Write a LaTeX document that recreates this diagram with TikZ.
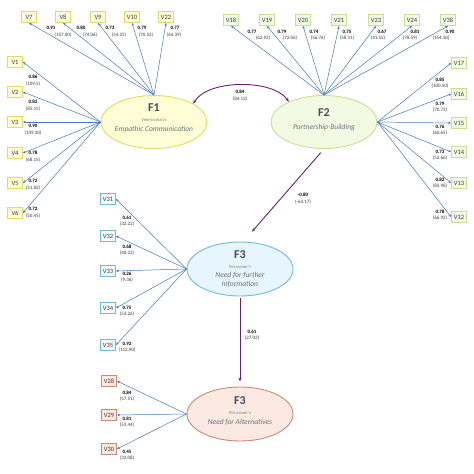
\documentclass[tikz,border=0pt]{standalone}
\usepackage{fontspec}
\setmainfont{Carlito}
\usetikzlibrary{arrows.meta,positioning,calc,shapes.geometric}
\definecolor{lineBlue}{RGB}{70,120,190}
\definecolor{effPurple}{RGB}{105,35,115}
\definecolor{textGrey}{RGB}{60,60,60}
\definecolor{titleGrey}{RGB}{65,78,92}
\definecolor{subGrey}{RGB}{130,130,130}
\definecolor{nameGrey}{RGB}{105,115,125}
\definecolor{yelBorder}{RGB}{228,218,100}
\definecolor{yelFill}{RGB}{255,253,214}
\definecolor{grnBorder}{RGB}{196,226,146}
\definecolor{grnFill}{RGB}{243,250,228}
\definecolor{bluBorder}{RGB}{110,188,218}
\definecolor{bluFill}{RGB}{230,246,252}
\definecolor{orgBorder}{RGB}{205,138,110}
\definecolor{orgFill}{RGB}{252,233,226}

\begin{document}
\begin{tikzpicture}[
  x=1pt, y=-1pt,
  font=\rmfamily,
  vbox/.style={draw, line width=0.8pt, minimum width=15pt, minimum height=11pt, inner sep=0pt, font=\fontsize{6.5}{7}\selectfont, text=textGrey},
  ybox/.style={vbox, draw=yelBorder, fill=yelFill},
  gbox/.style={vbox, draw=grnBorder, fill=grnFill},
  bbox/.style={vbox, draw=bluBorder, fill=bluFill!40},
  obox/.style={vbox, draw=orgBorder, fill=orgFill},
  factor/.style={ellipse, line width=0.9pt, minimum width=106pt, minimum height=53pt, inner sep=0pt},
  ftag/.style={font=\bfseries\fontsize{12}{13}\selectfont, text=titleGrey},
  fsub/.style={font=\fontsize{4.5}{5}\selectfont, text=subGrey},
  fname/.style={font=\itshape\fontsize{7.5}{9.5}\selectfont, text=nameGrey, align=center},
  load/.style={-{Stealth[length=3pt,width=2.4pt]}, draw=lineBlue, line width=0.5pt},
  effect/.style={-{Stealth[length=4pt,width=3pt]}, draw=effPurple, line width=0.9pt},
  coef/.style={font=\bfseries\fontsize{5}{6}\selectfont, text=black, inner sep=0pt},
  tval/.style={font=\fontsize{5}{6}\selectfont, text=textGrey, inner sep=0pt}
]
\fill[white] (0,0) rectangle (474,474);
\useasboundingbox (0,0) rectangle (474,474);

% Factors
\node[factor, draw=yelBorder, fill=yelFill] (f1) at (154,122) {};
\node[ftag] (f1tag) at (154,108) {F1};
\node[fsub] (f1sub) at (154,120) {Veterinarian's};
\node[fname] (f1name) at (154,129) {Empathic Communication};

\node[factor, draw=grnBorder, fill=grnFill] (f2) at (324,122) {};
\node[ftag] (f2tag) at (324,113) {F2};
\node[fname] (f2name) at (324,128) {Partnership-Building};

\node[factor, draw=bluBorder, fill=bluFill, minimum height=54pt] (f3a) at (240,269) {};
\node[ftag] (f3atag) at (240,255) {F3};
\node[fsub] (f3asub) at (240,267) {Pet owner's};
\node[fname] (f3aname) at (240,280) {Need for further\\Information};

\node[factor, draw=orgBorder, fill=orgFill, minimum height=54pt] (f3b) at (240,414) {};
\node[ftag] (f3btag) at (240,401) {F3};
\node[fsub] (f3bsub) at (240,413) {Pet owner's};
\node[fname] (f3bname) at (240,422) {Need for Alternatives};

% F1 indicators
\foreach \n/\x in {7/29,8/63,9/98,10/132,22/166}{
  \node[ybox] (v\n) at (\x,17) {V\n};
  \draw[load] (f1.north) -- (v\n.south);
}
\foreach \n/\y in {1/62,2/92,3/122,4/153,5/183,6/213}{
  \node[ybox] (v\n) at (15,\y) {V\n};
  \draw[load] (f1.west) -- (v\n.east);
}

% F2 indicators
\foreach \n/\x in {18/231,19/267,20/303,21/339,23/376,24/412,38/448}{
  \node[gbox] (v\n) at (\x,20) {V\n};
  \draw[load] (f2.north) -- (v\n.south);
}
\foreach \n/\y in {17/63,16/94,15/123,14/152,13/183,12/217}{
  \node[gbox] (v\n) at (459,\y) {V\n};
  \draw[load] (f2.east) -- (v\n.west);
}

% F3 indicators
\foreach \n/\y in {31/199,32/236,33/271,34/308,35/345}{
  \node[bbox] (v\n) at (108,\y) {V\n};
  \draw[load] (f3a.west) -- (v\n.east);
}
\foreach \n/\y in {28/381,29/415,30/449}{
  \node[obox] (v\n) at (109,\y) {V\n};
  \draw[load] (f3b.west) -- (v\n.east);
}

% Loadings
\foreach \x/\cf/\u/\tv in {51/0.91/63/157.00, 81/0.80/90/74.06, 110/0.73/119/54.25, 142/0.79/146/70.52, 175/0.77/174/64.39}{
  \node[coef] (ct\x) at (\x,28) {\cf};
  \node[tval] (tt\x) at (\u,35) {(\tv)};
}
\foreach \x/\cf/\u/\tv in {252/0.77/263/62.92, 282/0.79/290/72.06, 314/0.74/318/56.76, 347/0.75/347/58.11, 382/0.67/378/41.55, 415/0.81/410/78.59, 450/0.90/441/154.10}{
  \node[coef] (cr\x) at (\x,32) {\cf};
  \node[tval] (tr\x) at (\u,38) {(\tv)};
}
\foreach \y/\cf/\tv in {77/0.86/109.5, 102/0.82/85.15, 126/0.90/149.30, 153/0.78/68.15, 181/0.72/51.82, 209/0.72/50.45}{
  \node[coef] (cl\y) at (33,\y) {\cf};
  \node[tval] (tl\y) at (33,\y+7) {(\tv)};
}
\foreach \y/\cf/\tv in {80/0.85/100.50, 104/0.79/70.73, 127/0.76/60.65, 152/0.73/52.66, 180/0.82/85.98, 212/0.78/66.92}{
  \node[coef] (ce\y) at (440,\y) {\cf};
  \node[tval] (te\y) at (440,\y+6.5) {(\tv)};
}
\foreach \y/\cf/\tv in {218/0.61/32.22, 247/0.68/40.22, 274/0.26/9.36, 308/0.75/53.26, 344/0.92/112.90, 393/0.84/57.51, 419/0.81/53.44, 452/0.45/33.08}{
  \node[coef] (cm\y) at (127,\y) {\cf};
  \node[tval] (tm\y) at (127,\y+6.5) {(\tv)};
}

% Structural paths
\draw[effect, {Stealth[length=4pt,width=3pt]}-{Stealth[length=4pt,width=3pt]}] (f2.150) to[out=125, in=60, looseness=0.75] (f1.25);
\node[coef] (c12) at (240,92) {0.84};
\node[tval] (t12) at (240,99) {(84.13)};

\draw[effect, shorten <=5pt, shorten >=13pt] (f2.south) -- (f3a.83);
\node[coef] (c23) at (303,195) {-0.80};
\node[tval] (t23) at (303,202) {(-63.17)};

\draw[effect, shorten <=2pt, shorten >=5pt] (f3a.south) -- (f3b.north);
\node[coef] (c33) at (252,332) {0.61};
\node[tval] (t33) at (252,338) {(27.03)};

\end{tikzpicture}
\end{document}
